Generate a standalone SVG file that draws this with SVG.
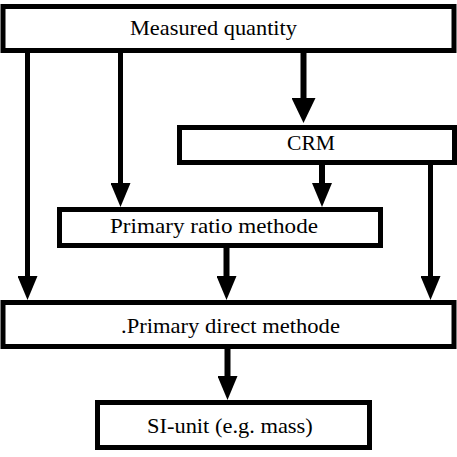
<svg xmlns="http://www.w3.org/2000/svg" width="457" height="457" viewBox="0 0 457 457">
<style>
.box{fill:#fff;stroke:#000;stroke-width:5}
.lbl{font-family:'Liberation Serif','Times New Roman',serif;font-size:20px;fill:#000}
.thin{stroke:#000;stroke-width:5;fill:none}
.thick{stroke:#000;stroke-width:6;fill:none}
</style>
<defs>
<marker id="ah" markerUnits="userSpaceOnUse" viewBox="0 0 24 20" markerWidth="24" markerHeight="20" refX="14" refY="10" orient="auto">
<path d="M0,0 L24,10 L0,20 z" fill="#000"/>
</marker>
<marker id="ahL" markerUnits="userSpaceOnUse" viewBox="0 0 25 24" markerWidth="25" markerHeight="24" refX="15" refY="12" orient="auto">
<path d="M0,0 L25,12 L0,24 z" fill="#000"/>
</marker>
</defs>
<rect width="457" height="457" fill="#fff"/>
<g id="connectors">
<line class="thin" x1="27.5" y1="52" x2="27.5" y2="290" marker-end="url(#ah)"/>
<line class="thin" x1="120.5" y1="52" x2="120.5" y2="197" marker-end="url(#ah)"/>
<line class="thick" x1="303.5" y1="52" x2="303.5" y2="113" marker-end="url(#ahL)"/>
<line class="thick" x1="322" y1="163" x2="322" y2="197" marker-end="url(#ah)"/>
<line class="thin" x1="430.5" y1="163" x2="430.5" y2="290" marker-end="url(#ah)"/>
<line class="thick" x1="226.5" y1="246" x2="226.5" y2="290" marker-end="url(#ah)"/>
<line class="thick" x1="227.5" y1="347" x2="227.5" y2="390" marker-end="url(#ah)"/>
</g>
<g id="measured">
<rect class="box" x="3" y="6.5" width="451" height="44"/>
<text class="lbl" transform="translate(130,35) scale(1.118,1)">Measured quantity</text>
</g>
<g id="crm">
<rect class="box" x="179.5" y="127.5" width="275" height="35"/>
<text class="lbl" transform="translate(287,150) scale(1.08,1)">CRM</text>
</g>
<g id="ratio">
<rect class="box" x="59.5" y="209.5" width="321" height="36"/>
<text class="lbl" transform="translate(110,233) scale(1.156,1)">Primary ratio methode</text>
</g>
<g id="direct">
<rect class="box" x="3" y="302.5" width="451" height="44"/>
<text class="lbl" transform="translate(121,333) scale(1.13,1)">.Primary direct methode</text>
</g>
<g id="si">
<rect class="box" x="97.5" y="402.5" width="272" height="45"/>
<text class="lbl" transform="translate(147,433) scale(1.123,1)">SI-unit (e.g. mass)</text>
</g>
</svg>
